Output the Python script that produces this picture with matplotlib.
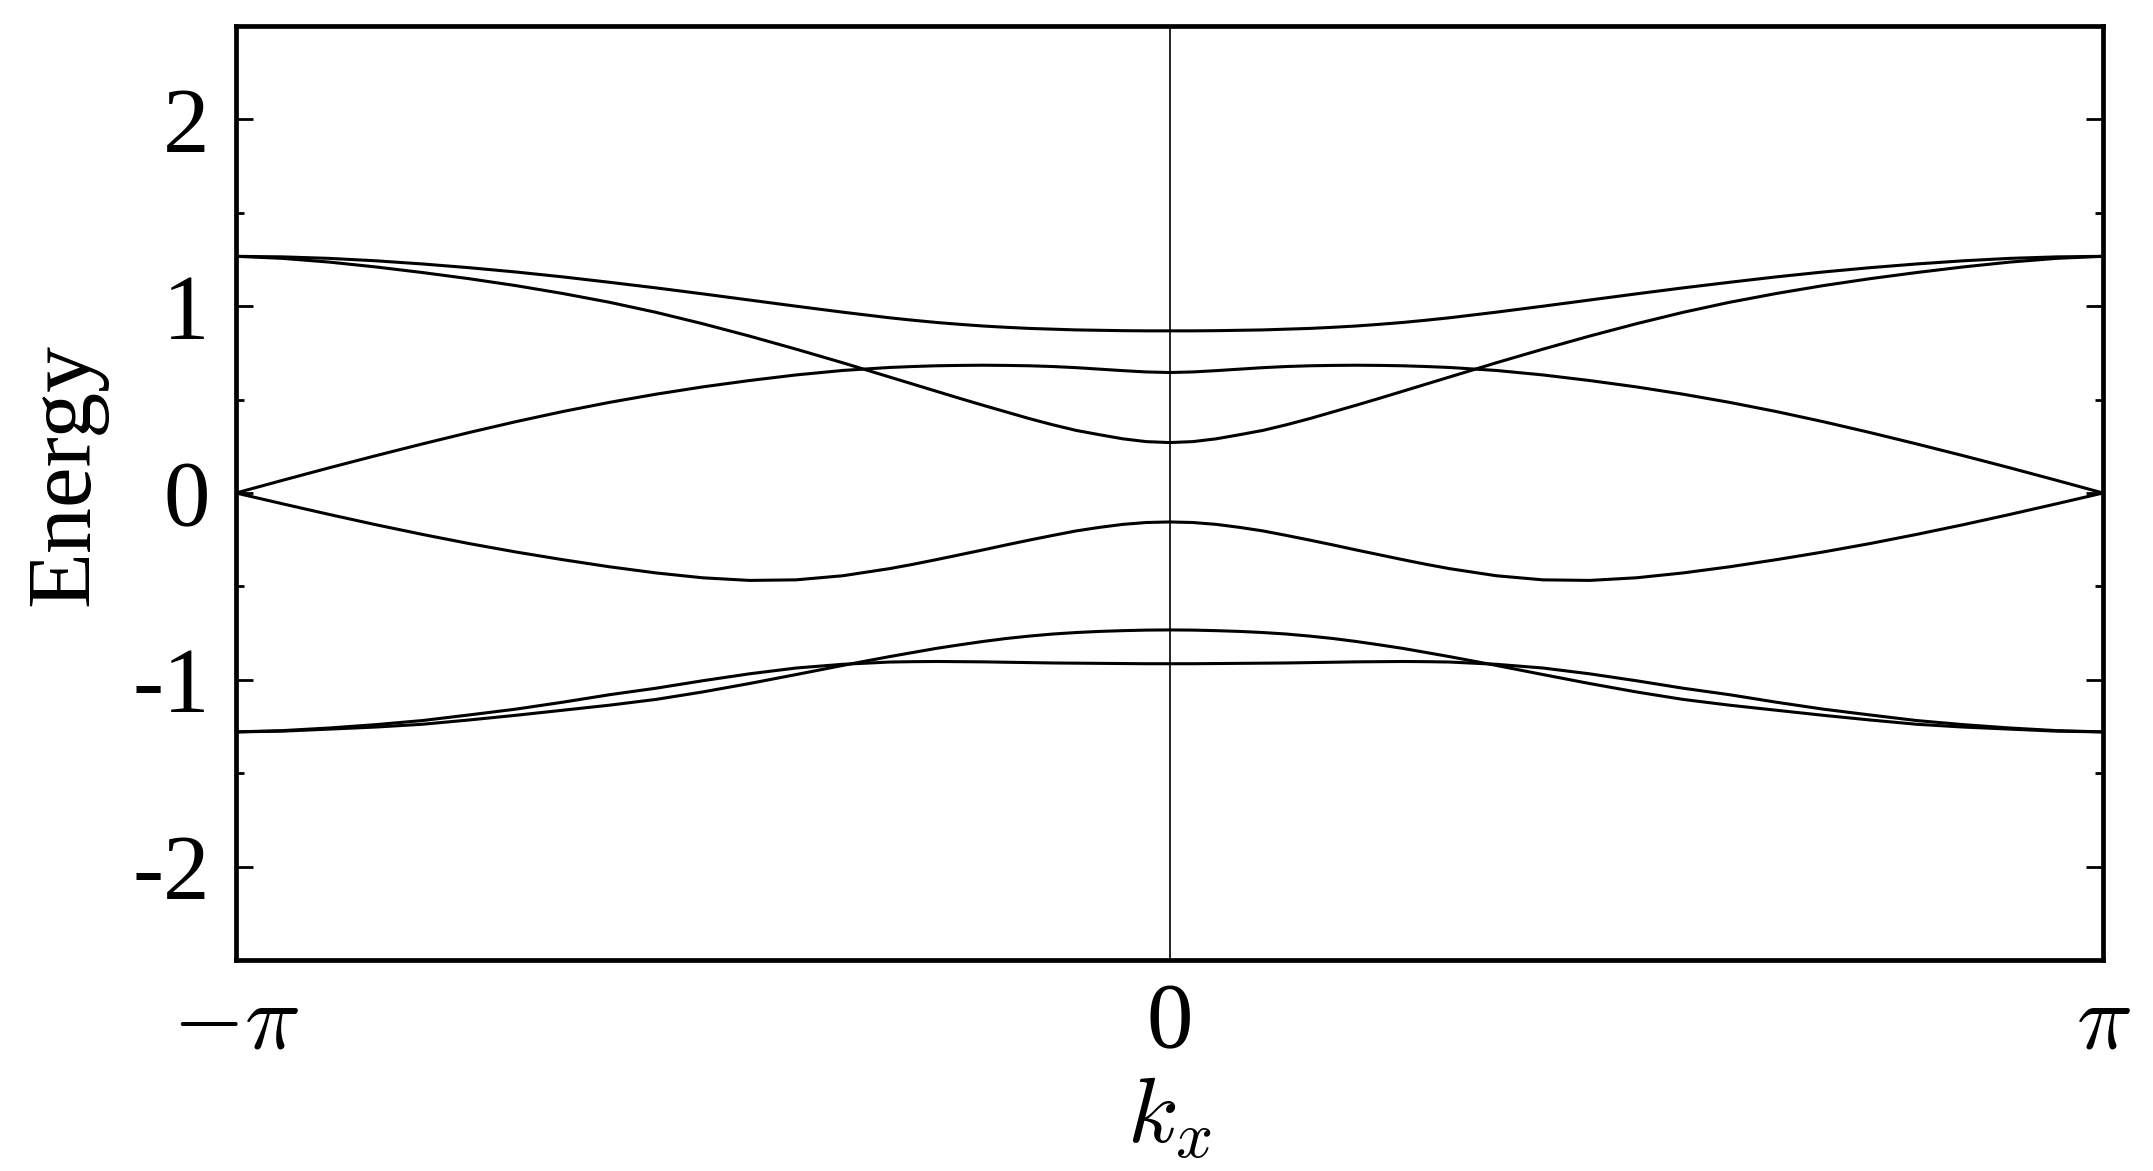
import matplotlib
matplotlib.use("Agg")
import matplotlib.pyplot as plt
from matplotlib.ticker import MultipleLocator

plt.rcParams['font.family'] = ['Liberation Serif', 'DejaVu Serif']
plt.rcParams['mathtext.fontset'] = 'cm'

# k_x in units of pi (finer sampling near the zone centre)
KX = [-1.00, -0.95, -0.90, -0.85, -0.80, -0.75, -0.70, -0.65, -0.60, -0.55, -0.50,
      -0.45, -0.40, -0.35, -0.30, -0.275, -0.25, -0.225, -0.20, -0.175, -0.15,
      -0.125, -0.10, -0.075, -0.05, -0.025, 0.00,
      0.025, 0.05, 0.075, 0.10, 0.125, 0.15, 0.175, 0.20, 0.225, 0.25, 0.275, 0.30,
      0.35, 0.40, 0.45, 0.50, 0.55, 0.60, 0.65, 0.70, 0.75, 0.80, 0.85, 0.90, 0.95, 1.00]

band_1 = [1.267, 1.264, 1.256, 1.243, 1.226, 1.206, 1.183, 1.157, 1.128, 1.098, 1.066,
          1.033, 1.000, 0.968, 0.938, 0.925, 0.913, 0.903, 0.894, 0.887, 0.881,
          0.877, 0.873, 0.871, 0.869, 0.868, 0.868,
          0.868, 0.869, 0.871, 0.873, 0.877, 0.881, 0.887, 0.894, 0.903, 0.913, 0.925, 0.938,
          0.968, 1.000, 1.033, 1.066, 1.098, 1.128, 1.157, 1.183, 1.206, 1.226, 1.243, 1.256, 1.264, 1.267]

band_2 = [1.267, 1.256, 1.236, 1.210, 1.180, 1.147, 1.110, 1.068, 1.021, 0.967, 0.906,
          0.840, 0.770, 0.697, 0.621, 0.583, 0.545, 0.507, 0.470, 0.434, 0.398,
          0.365, 0.335, 0.312, 0.290, 0.275, 0.270,
          0.275, 0.290, 0.312, 0.335, 0.365, 0.398, 0.434, 0.470, 0.507, 0.545, 0.583, 0.621,
          0.697, 0.770, 0.840, 0.906, 0.967, 1.021, 1.068, 1.110, 1.147, 1.180, 1.210, 1.236, 1.256, 1.267]

band_3 = [0.000, 0.068, 0.135, 0.200, 0.263, 0.324, 0.382, 0.436, 0.485, 0.529, 0.568,
          0.602, 0.632, 0.656, 0.672, 0.677, 0.681, 0.683, 0.684, 0.683, 0.681,
          0.677, 0.671, 0.663, 0.655, 0.648, 0.645,
          0.648, 0.655, 0.663, 0.671, 0.677, 0.681, 0.683, 0.684, 0.683, 0.681, 0.677, 0.672,
          0.656, 0.632, 0.602, 0.568, 0.529, 0.485, 0.436, 0.382, 0.324, 0.263, 0.200, 0.135, 0.068, 0.000]

band_4 = [0.000, -0.058, -0.115, -0.170, -0.222, -0.271, -0.316, -0.357, -0.395, -0.428, -0.454,
          -0.468, -0.465, -0.443, -0.405, -0.382, -0.357, -0.331, -0.305, -0.278, -0.252,
          -0.227, -0.203, -0.184, -0.168, -0.158, -0.155,
          -0.158, -0.168, -0.184, -0.203, -0.227, -0.252, -0.278, -0.305, -0.331, -0.357, -0.382, -0.405,
          -0.443, -0.465, -0.468, -0.454, -0.428, -0.395, -0.357, -0.316, -0.271, -0.222, -0.170, -0.115, -0.058, 0.000]

band_5 = [-1.279, -1.275, -1.264, -1.253, -1.238, -1.215, -1.190, -1.163, -1.136, -1.105, -1.065,
          -1.020, -0.972, -0.923, -0.876, -0.854, -0.832, -0.813, -0.795, -0.779, -0.766,
          -0.755, -0.747, -0.741, -0.737, -0.734, -0.733,
          -0.734, -0.737, -0.741, -0.747, -0.755, -0.766, -0.779, -0.795, -0.813, -0.832, -0.854, -0.876,
          -0.923, -0.972, -1.020, -1.065, -1.105, -1.136, -1.163, -1.190, -1.215, -1.238, -1.253, -1.264, -1.275, -1.279]

band_6 = [-1.279, -1.272, -1.258, -1.240, -1.218, -1.188, -1.157, -1.120, -1.080, -1.045, -1.005,
          -0.968, -0.937, -0.917, -0.905, -0.903, -0.902, -0.903, -0.904, -0.906, -0.908,
          -0.910, -0.911, -0.912, -0.913, -0.914, -0.914,
          -0.914, -0.913, -0.912, -0.911, -0.910, -0.908, -0.906, -0.904, -0.903, -0.902, -0.903, -0.905,
          -0.917, -0.937, -0.968, -1.005, -1.045, -1.080, -1.120, -1.157, -1.188, -1.218, -1.240, -1.258, -1.272, -1.279]

bands = [band_1, band_2, band_3, band_4, band_5, band_6]

x_ticks = [-1, 0, 1]
x_ticklabels = [r'$-\pi$', '0', r'$\pi$']
y_ticks = [-2, -1, 0, 1, 2]
y_ticklabels = ['-2', '-1', '0', '1', '2']

fig = plt.figure(figsize=(21.53, 11.71), dpi=100)
ax = fig.add_axes([0.1096, 0.1802, 0.8672, 0.7976])

for b in bands:
    ax.plot(KX, b, color='black', lw=2.2, solid_joinstyle='round', solid_capstyle='butt')

ax.axvline(0, color='black', lw=1.2)

ax.set_xlim(-1, 1)
ax.set_ylim(-2.5, 2.5)

for s in ax.spines.values():
    s.set_linewidth(3.4)

ax.set_xticks(x_ticks)
ax.set_xticklabels(x_ticklabels)
ax.set_yticks(y_ticks)
ax.set_yticklabels(y_ticklabels)
ax.yaxis.set_minor_locator(MultipleLocator(0.5))

ax.tick_params(axis='x', which='both', length=0, pad=16, labelsize=67)
ax.tick_params(axis='y', which='major', direction='in', length=12.5, width=2,
               left=True, right=True, pad=19, labelsize=67)
ax.tick_params(axis='y', which='minor', direction='in', length=6, width=2,
               left=True, right=True)

ax.set_xlabel(r'$k_x$', fontsize=67)
ax.xaxis.set_label_coords(0.5, -0.125)
ax.set_ylabel('Energy', fontsize=66)
ax.yaxis.set_label_coords(-0.069, 0.52)

fig.savefig('out.png', dpi=100)
